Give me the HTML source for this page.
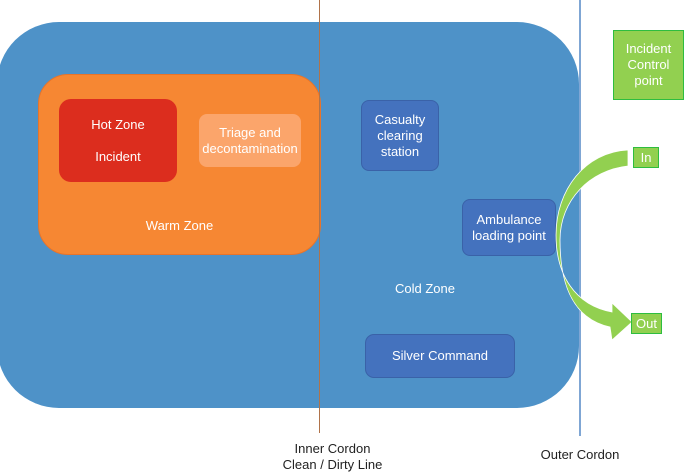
<!DOCTYPE html>
<html><head><meta charset="utf-8"><style>
html,body{margin:0;padding:0;width:685px;height:473px;overflow:hidden;background:#fff;font-family:"Liberation Sans",sans-serif}
.a{position:absolute;box-sizing:border-box;display:flex;align-items:center;justify-content:center;text-align:center;color:#fff;font-size:13px;line-height:16px}
.t{position:absolute;color:#222;font-size:13px;line-height:16px;text-align:center}
</style></head><body>
<div class="a" style="left:-3px;top:22px;width:582px;height:386px;background:#4e92c8;border-radius:62px"></div>
<div class="a" style="left:38px;top:74px;width:283px;height:181px;background:#f68733;border:1px solid #e8742a;border-radius:30px;align-items:flex-end;padding-bottom:20px">Warm Zone</div>
<div class="a" style="left:59px;top:99px;width:118px;height:83px;background:#dc2d1e;border-radius:12px;flex-direction:column;line-height:32px">Hot Zone<br>Incident</div>
<div class="a" style="left:199px;top:114px;width:102px;height:53px;background:#fba56b;border-radius:8px">Triage and<br>decontamination</div>
<div class="a" style="left:361px;top:100px;width:78px;height:71px;background:#4472be;border:1px solid #3a62a8;border-radius:8px">Casualty<br>clearing<br>station</div>
<div class="a" style="left:462px;top:199px;width:94px;height:57px;background:#4472be;border:1px solid #3a62a8;border-radius:8px">Ambulance<br>loading point</div>
<div class="a" style="left:365px;top:334px;width:150px;height:44px;background:#4472be;border:1px solid #3a62a8;border-radius:9px">Silver Command</div>
<div class="a" style="left:385px;top:281px;width:80px;height:16px">Cold Zone</div>
<div style="position:absolute;left:319px;top:0;width:1px;height:433px;background:#b0734a"></div>
<div style="position:absolute;left:579px;top:0;width:2px;height:436px;background:#7fa6d4"></div>
<div class="a" style="left:613px;top:30px;width:71px;height:70px;background:#92d050;border:1px solid #2ebd3f">Incident<br>Control<br>point</div>
<svg style="position:absolute;left:0;top:0" width="685" height="473">
<path d="M628,150 C585,152 556,190 556,235 C556,275 575,305 612,312 L612,303 L632,322 L612,340 L610,327 C570,318 560,280 560,240 C560,200 590,170 628,166 Z" fill="#92d050" stroke="#fff" stroke-width="0.8"/>
</svg>
<div class="a" style="left:633px;top:147px;width:26px;height:21px;background:#92d050;border:1px solid #2ebd3f">In</div>
<div class="a" style="left:631px;top:313px;width:31px;height:21px;background:#92d050;border:1px solid #2ebd3f">Out</div>
<div class="t" style="left:260px;top:441px;width:145px">Inner Cordon<br>Clean / Dirty Line</div>
<div class="t" style="left:530px;top:447px;width:100px">Outer Cordon</div>
</body></html>
